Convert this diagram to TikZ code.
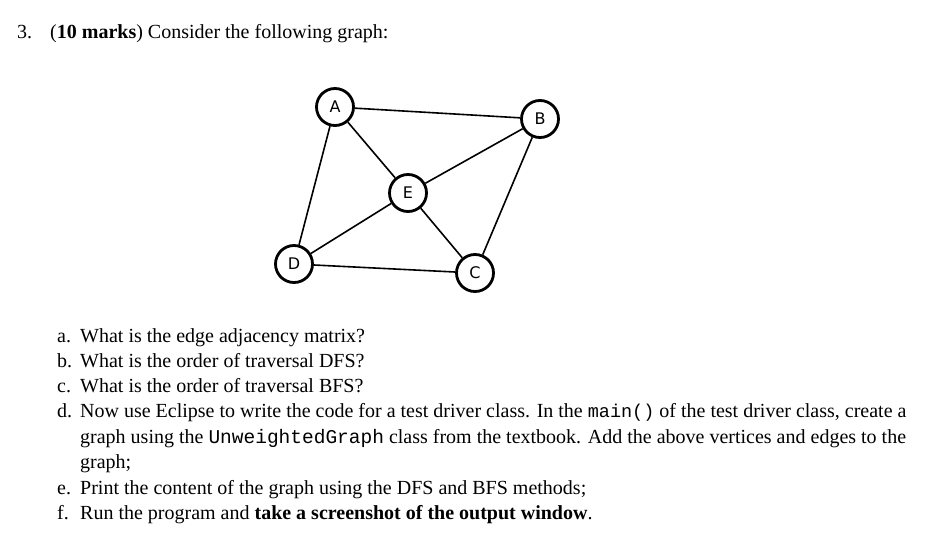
\documentclass[tikz,border=0pt]{standalone}
\usepackage{fontspec}
\setmainfont{Liberation Serif}
\setmonofont{Liberation Mono}
\newfontfamily\gsans{DejaVu Sans}
\begin{document}
\begin{tikzpicture}[x=1pt,y=-1pt,
  vert/.style={circle,draw,line width=2.8pt,minimum size=37pt,inner sep=0pt,font=\gsans\fontsize{16}{16}\selectfont},
  edge/.style={line width=1.6pt},
  txt/.style={anchor=base west,inner sep=0pt,font=\fontsize{20}{22}\selectfont}]
\useasboundingbox (0,0) rectangle (952,543);
\node[vert] (A) at (335,107) {A};
\node[vert] (B) at (540,119) {B};
\node[vert] (E) at (408,193) {E};
\node[vert] (D) at (294,264) {D};
\node[vert] (C) at (475,273) {C};
\foreach \u/\v in {A/B,A/D,A/E,E/B,E/C,D/E,D/C,B/C} \draw[edge] (\u) -- (\v);
\node[txt] (t0) at (17,39) {3.};
\node[txt] (t1) at (50,39) {(\textbf{10 marks}) Consider the following graph:};
\node[txt] (la) at (57,342) {a.};
\node[txt] (a) at (80,342) {What is the edge adjacency matrix?};
\node[txt] (lb) at (57,367) {b.};
\node[txt] (b) at (80,367) {What is the order of traversal DFS?};
\node[txt] (lc) at (57,392) {c.};
\node[txt] (c) at (80,392) {What is the order of traversal BFS?};
\node[txt] (ld) at (57,417) {d.};
\node[txt] (d1) at (80,417) {Now use Eclipse to write the code for a test driver class. In the {\fontsize{18.5}{20}\selectfont\texttt{main()}} of the test driver class, create a};
\node[txt] (d2) at (80,443) {graph using the {\fontsize{19.5}{20}\selectfont\texttt{UnweightedGraph}} class from the textbook. Add the above vertices and edges to the};
\node[txt] (d3) at (80,468) {graph;};
\node[txt] (le) at (57,494) {e.};
\node[txt] (e) at (80,494) {Print the content of the graph using the DFS and BFS methods;};
\node[txt] (lf) at (57,519) {f.};
\node[txt] (f) at (80,519) {Run the program and \textbf{take a screenshot of the output window}.};
\end{tikzpicture}
\end{document}
